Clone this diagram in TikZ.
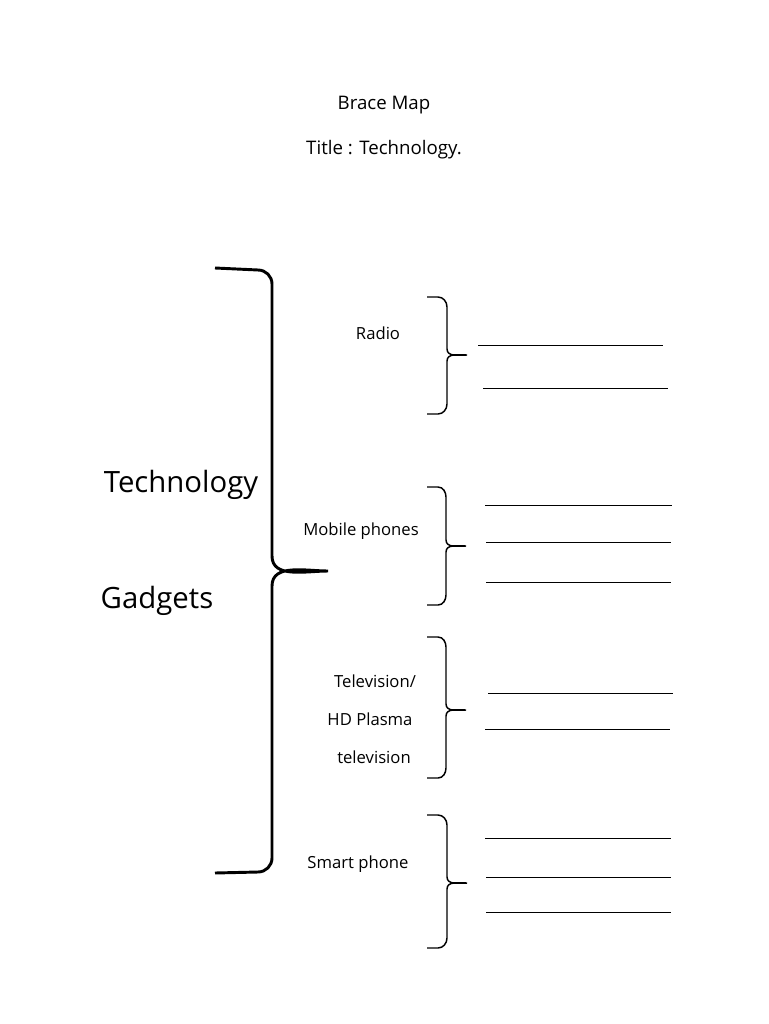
\documentclass[tikz,border=0pt]{standalone}
\usepackage{fontspec}
\setmainfont{Open Sans}
\begin{document}
\begin{tikzpicture}[x=0.75pt,y=-0.75pt,
  lbl/.style={font=\fontsize{12.5}{14}\selectfont,anchor=center},
  brc/.style={draw,line width=1.1pt},
  bigbrc/.style={draw,line width=2.2pt},
  blank/.style={draw,line width=0.6pt}]
\useasboundingbox (0,0) rectangle (768,1024);
\node[font=\fontsize{14}{16}\selectfont] (t1) at (384,105) {Brace Map};
\node[font=\fontsize{14}{16}\selectfont] (t2) at (384,150) {Title : Technology.};
\node[font=\fontsize{22}{24}\selectfont] (tech) at (181,485) {Technology};
\node[font=\fontsize{22}{24}\selectfont] (gad) at (157,601) {Gadgets};
% big brace
\path[bigbrc] (215,268) -- (258,270) to[out=0,in=90] (272,284) -- (272,556)
  to[out=-90,in=180] (328,571) to[out=180,in=90] (272,586) -- (272,858)
  to[out=-90,in=0] (258,872) -- (215,873);
% small braces: x, top, tip, bottom
\foreach \x/\a/\m/\b in {447/297/355/414, 446/487/546/605, 446/637/710/778, 447/815/883/948}{
  \path[brc] (427,\a) -- (438,\a) to[out=0,in=90] (\x,\a+10) -- (\x,\m-6)
    to[out=-90,in=180] (\x+20,\m) to[out=180,in=90] (\x,\m+6) -- (\x,\b-10)
    to[out=-90,in=0] (438,\b) -- (427,\b);
}
\node[lbl] (r) at (378,333) {Radio};
\node[lbl] (m) at (361,531) {Mobile phones};
\node[lbl] (tv1) at (375,681) {Television/};
\node[lbl] (tv2) at (370,719) {HD Plasma};
\node[lbl] (tv3) at (374,757) {television};
\node[lbl] (s) at (358,864) {Smart phone};
\foreach \xa/\xb/\y in {478/663/345, 483/668/388,
  485/672/505, 486/671/542, 486/671/582,
  488/673/693, 485/670/729,
  485/671/838, 486/671/877, 486/671/912}{
  \path[blank] (\xa,\y) -- (\xb,\y);
}
\end{tikzpicture}
\end{document}
